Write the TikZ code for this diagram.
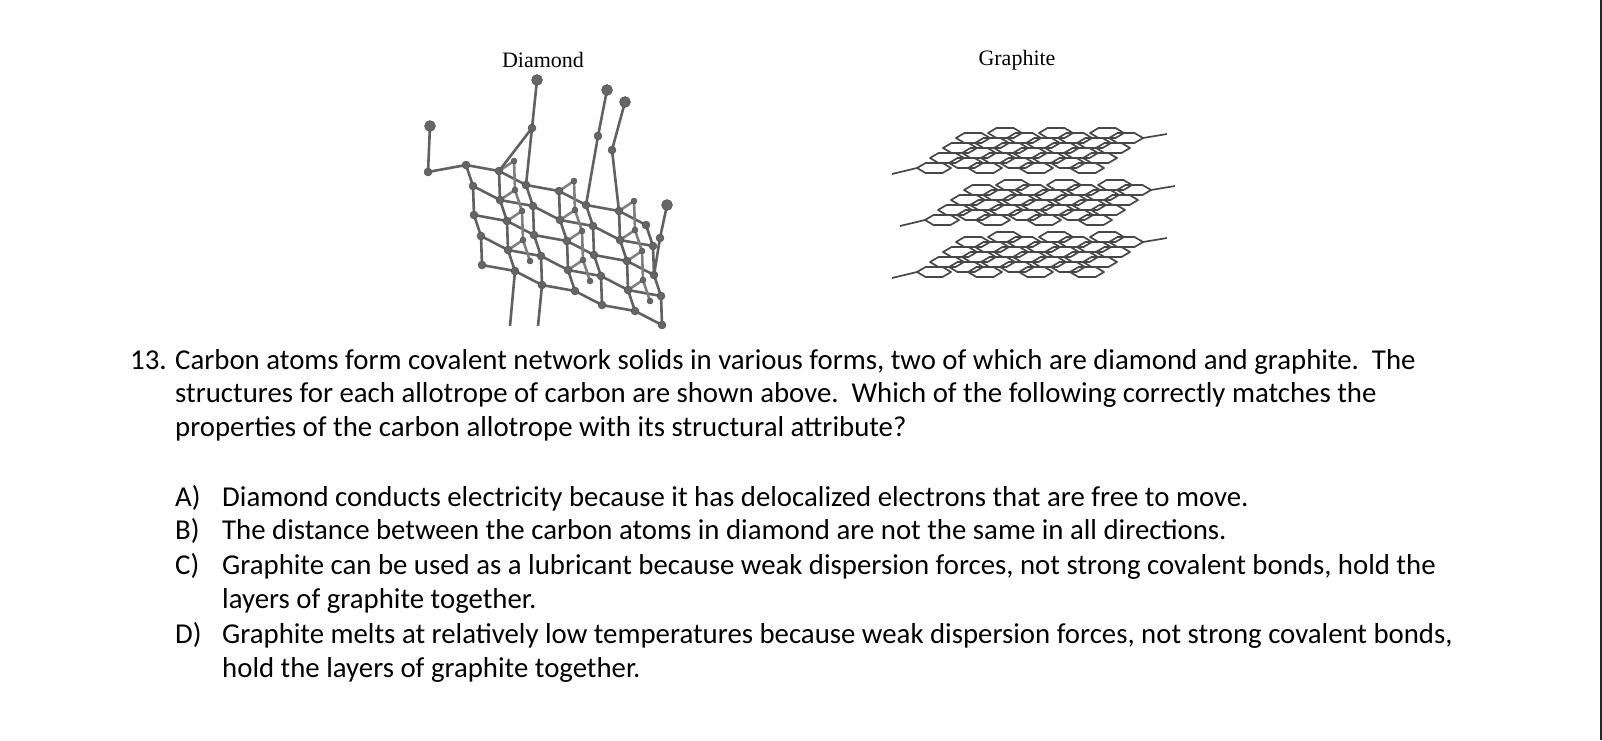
\documentclass[tikz,border=0pt]{standalone}
\usepackage{fontspec}
\setmainfont{Carlito}
\newfontfamily\serifx{Liberation Serif}
\begin{document}
\begin{tikzpicture}[x=1pt,y=-1pt,
  bond/.style={draw=black!62,line width=2.6pt},
  atom/.style={fill=black!60,draw=black!70,circle,inner sep=0pt,minimum size=8pt},
  big/.style={fill=black!60,draw=black!70,circle,inner sep=0pt,minimum size=11pt},
  gb/.style={draw=black!72,line width=1.7pt,line join=round},
  txt/.style={anchor=base west,inner sep=0pt,font=\fontsize{28.8}{34}\selectfont},
  ttl/.style={inner sep=0pt,font=\serifx\fontsize{22}{26}\selectfont}]
\useasboundingbox (0,0) rectangle (1602,740);
\fill[black!85] (1600,0) rectangle (1602,740);
% titles
\node[ttl] (tD) at (543,60) {Diamond};
\node[ttl] (tG) at (1017,60) {Graphite};
% diamond lattice
\foreach \i in {0,...,6}{\foreach \j in {0,...,4}{
  \pgfmathsetmacro\px{466+30*\i+4*\j+mod(\i+\j,2)*3}
  \pgfmathsetmacro\py{165+10*\i+25*\j-mod(\i+\j,2)*4}
  \coordinate (p\i-\j) at (\px,\py);
  \pgfmathsetmacro\qx{\px+15}\pgfmathsetmacro\qy{\py-10}
  \coordinate (q\i-\j) at (\qx,\qy);
}}
\foreach \i in {0,...,6}{\foreach \j in {0,...,4}{
  \ifnum\i<6 \pgfmathtruncatemacro\ni{\i+1}\draw[bond] (p\i-\j) -- (p\ni-\j);\fi
  \ifnum\j<4 \pgfmathtruncatemacro\nj{\j+1}\draw[bond] (p\i-\j) -- (p\i-\nj);\fi
  \ifodd\i \ifnum\j<4 \draw[bond,black!50] (p\i-\j) -- (q\i-\j);\fi\fi
}}
\foreach \i in {1,3,5}{\foreach \j in {0,...,3}{
  \pgfmathtruncatemacro\nj{\j+1}
  \draw[bond,black!50] (q\i-\j) -- (q\i-\nj);
}}
\foreach \i in {0,...,6}{\foreach \j in {0,...,4}{\node[atom] at (p\i-\j) {};}}
\foreach \i in {1,3,5}{\foreach \j in {0,...,4}{\node[atom,minimum size=6pt] at (q\i-\j) {};}}
% dangling bonds
\coordinate (d1) at (430,126); \coordinate (d2) at (428,172);
\draw[bond] (d1) -- (d2) -- (p0-0);
\coordinate (d3) at (537,80); \coordinate (d4) at (532,128);
\draw[bond] (d3) -- (d4) -- (p2-0); \draw[bond] (d4) -- (p1-0);
\coordinate (d5) at (607,90); \coordinate (d6) at (598,136);
\draw[bond] (d5) -- (d6) -- (p4-0);
\coordinate (d7) at (625,102); \coordinate (d8) at (612,150);
\draw[bond] (d7) -- (d8) -- (p5-0);
\coordinate (d9) at (667,205); \coordinate (d10) at (660,238);
\draw[bond] (d9) -- (d10) -- (p6-2);
\coordinate (e1) at (510,326); \draw[bond] (p1-4) -- (e1);
\coordinate (e2) at (538,326); \draw[bond] (p2-4) -- (e2);
\foreach \c in {d1,d3,d5,d7,d9}{\node[big] at (\c) {};}
\foreach \c in {d2,d4,d6,d8,d10}{\node[atom] at (\c) {};}
% graphite layers
\foreach \yc/\xs in {168/934, 220/942, 272/934}{
  \foreach \c in {0,...,6}{\foreach \r in {0,...,3}{
    \pgfmathsetmacro\cy{\yc-\r*10-mod(\c,2)*5}
    \pgfmathsetmacro\cx{\xs+25.5*\c+(\yc-\cy)*1.3}
    \draw[gb] (\cx-17,\cy) -- (\cx-8.5,\cy-5) -- (\cx+8.5,\cy-5) -- (\cx+17,\cy)
      -- (\cx+8.5,\cy+5) -- (\cx-8.5,\cy+5) -- cycle;
  }}
  \coordinate (gl\yc) at (\xs-17,\yc); \coordinate (gm\yc) at (\xs-42,\yc+6);
  \draw[gb] (gl\yc) -- (gm\yc);
  \pgfmathsetmacro\ex{\xs+25.5*6+17+30*1.3}
  \coordinate (gr\yc) at (\ex,\yc-30); \coordinate (gs\yc) at (\ex+24,\yc-34);
  \draw[gb] (gr\yc) -- (gs\yc);
}
% question
\node[txt] (q0) at (130,369) {13.};
\node[txt] (q1) at (175,369) {Carbon atoms form covalent network solids in various forms, two of which are diamond and graphite.\ \ The};
\node[txt] (q2) at (175,402.5) {structures for each allotrope of carbon are shown above.\ \ Which of the following correctly matches the};
\node[txt] (q3) at (175,436) {properties of the carbon allotrope with its structural attribute?};
\node[txt] (aA) at (175,506) {A)};
\node[txt] (tA) at (222,506) {Diamond conducts electricity because it has delocalized electrons that are free to move.};
\node[txt] (aB) at (175,539) {B)};
\node[txt] (tB) at (222,539) {The distance between the carbon atoms in diamond are not the same in all directions.};
\node[txt] (aC) at (175,574) {C)};
\node[txt] (tC) at (222,574) {Graphite can be used as a lubricant because weak dispersion forces, not strong covalent bonds, hold the};
\node[txt] (tC2) at (222,608) {layers of graphite together.};
\node[txt] (aD) at (175,643) {D)};
\node[txt] (tD2) at (222,643) {Graphite melts at relatively low temperatures because weak dispersion forces, not strong covalent bonds,};
\node[txt] (tD3) at (222,677) {hold the layers of graphite together.};
\end{tikzpicture}
\end{document}
